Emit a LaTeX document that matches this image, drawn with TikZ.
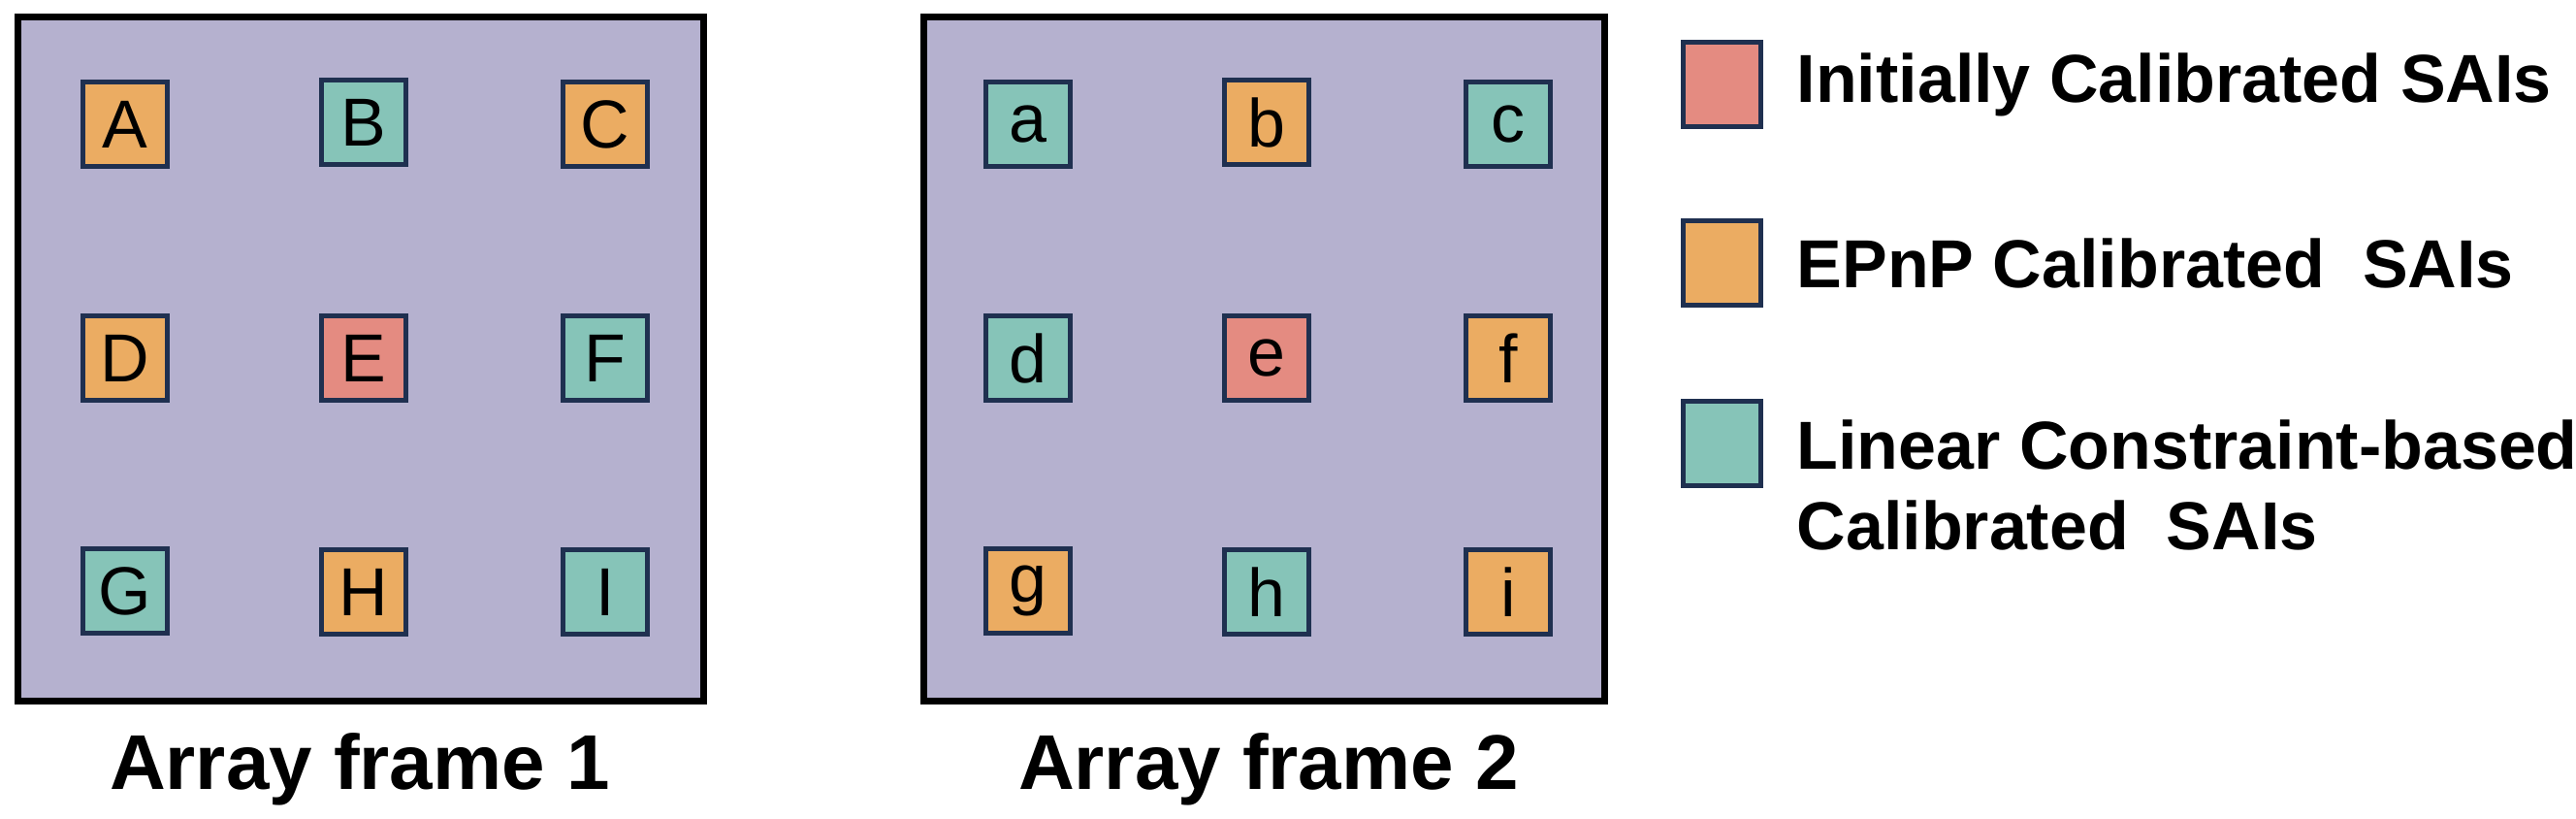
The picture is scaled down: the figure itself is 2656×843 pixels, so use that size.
\documentclass[tikz,border=0pt]{standalone}
\usepackage{fontspec}
\setmainfont{Liberation Sans}
\begin{document}
\begin{tikzpicture}[x=0.3pt,y=-0.3pt,
  frame/.style={draw=black,line width=2.1pt,fill=lav},
  cell/.style={draw=navy,line width=1.5pt,minimum width=26pt,minimum height=26pt,inner sep=0pt,font=\fontsize{21}{21}\selectfont},
  leg/.style={draw=navy,line width=1.5pt,minimum width=24pt,minimum height=26pt,inner sep=0pt},
  legtxt/.style={anchor=west,font=\fontsize{21}{25}\selectfont\bfseries,align=left,inner sep=0pt},
  captxt/.style={font=\fontsize{24}{24}\selectfont\bfseries,anchor=base,inner sep=0pt}]
\definecolor{lav}{HTML}{B5B1CF}
\definecolor{org}{HTML}{EBAC62}
\definecolor{teal}{HTML}{86C4B8}
\definecolor{pnk}{HTML}{E48B81}
\definecolor{navy}{HTML}{1F3050}
\useasboundingbox (0,0) rectangle (2656,843);
\draw[frame] (18,17) rectangle (725,722);
\draw[frame] (952,17) rectangle (1654,722);
% frame 1
\node[cell,fill=org]  (A) at (129,128) {A};
\node[cell,fill=teal] (B) at (375,126) {B};
\node[cell,fill=org]  (C) at (624,128) {C};
\node[cell,fill=org]  (D) at (129,369) {D};
\node[cell,fill=pnk]  (E) at (375,369) {E};
\node[cell,fill=teal] (F) at (624,369) {F};
\node[cell,fill=teal] (G) at (129,609) {G};
\node[cell,fill=org]  (H) at (375,610) {H};
\node[cell,fill=teal] (I) at (624,610) {I};
% frame 2
\node[cell,fill=teal] (a) at (1060,128) {a};
\node[cell,fill=org]  (b) at (1306,126) {b};
\node[cell,fill=teal] (c) at (1555,128) {c};
\node[cell,fill=teal] (d) at (1060,369) {d};
\node[cell,fill=pnk]  (e) at (1306,369) {e};
\node[cell,fill=org]  (f) at (1555,369) {f};
\node[cell,fill=org]  (g) at (1060,609) {g};
\node[cell,fill=teal] (h) at (1306,610) {h};
\node[cell,fill=org]  (i) at (1555,610) {i};
\node[captxt] (c1) at (371,813) {Array frame 1};
\node[captxt] (c2) at (1308,813) {Array frame 2};
% legend
\node[leg,fill=pnk]  (l1) at (1775,87) {};
\node[leg,fill=org]  (l2) at (1775,271) {};
\node[leg,fill=teal] (l3) at (1775,457) {};
\node[legtxt] (t1) at (1852,87) {Initially Calibrated SAIs};
\node[legtxt] (t2) at (1852,271) {EPnP Calibrated \ SAIs};
\node[legtxt] (t3) at (1852,500) {Linear Constraint-based\\Calibrated \ SAIs};
\end{tikzpicture}
\end{document}
